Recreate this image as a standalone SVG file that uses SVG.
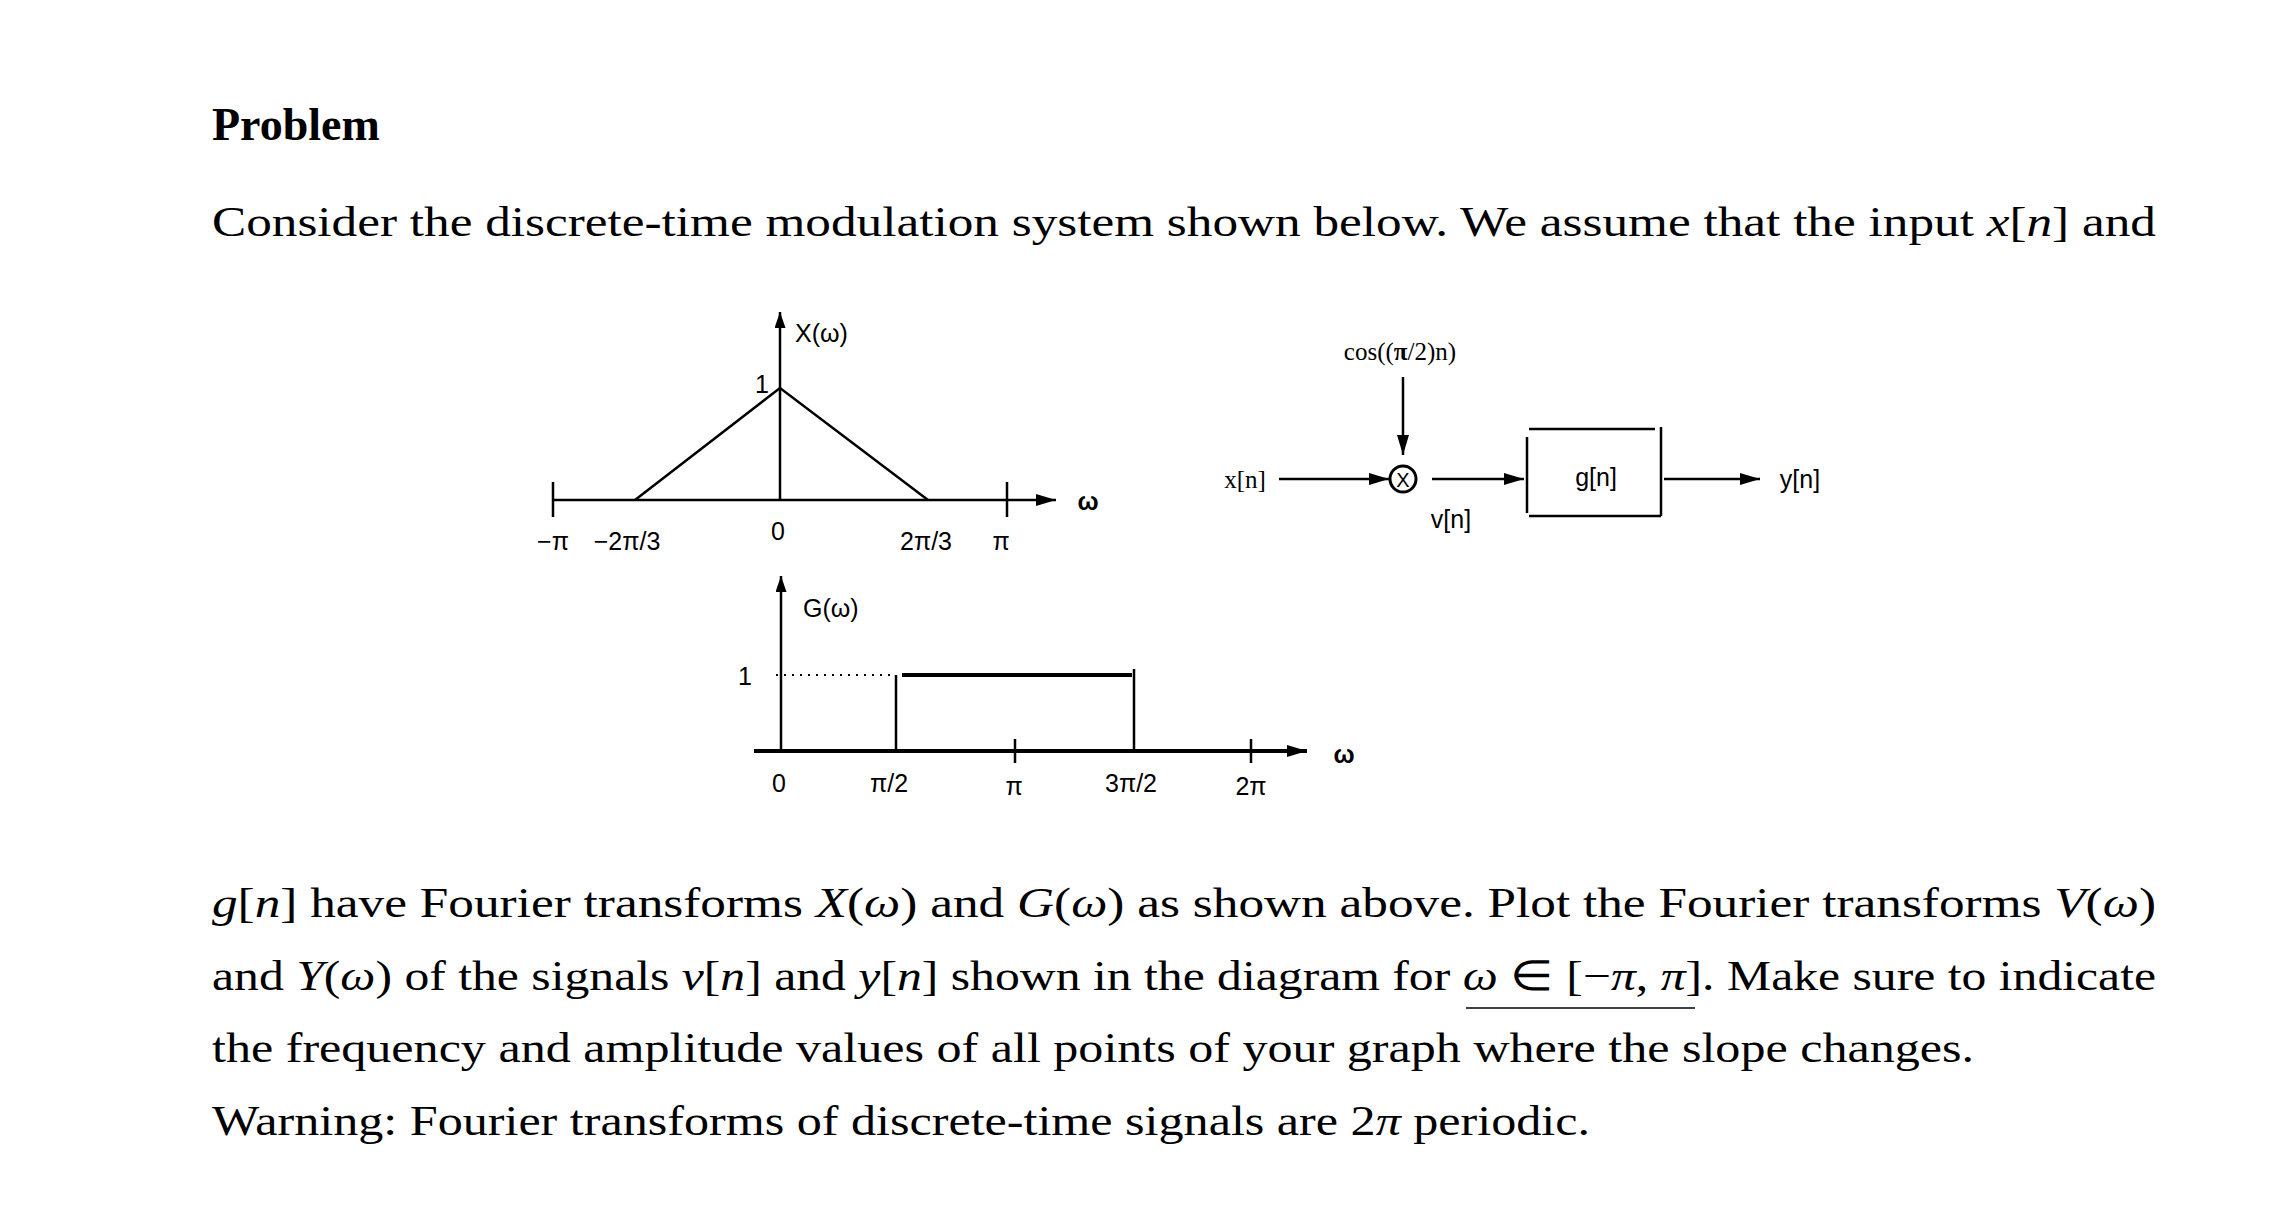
<svg xmlns="http://www.w3.org/2000/svg" width="2272" height="1216" viewBox="0 0 2272 1216">
<style>
.b{font-family:"Liberation Serif",serif;font-size:42px;fill:#000}
.i{font-style:italic}
.s{font-family:"Liberation Sans",Arial,sans-serif;font-size:25px;fill:#000}
.t{font-family:"Liberation Serif",serif;font-size:25px;fill:#000}
.l{stroke:#000;stroke-width:2.5;fill:none}
.k{stroke:#000;stroke-width:4;fill:none}
</style>
<defs>
<marker id="a" viewBox="0 0 10 10" refX="10" refY="5" markerWidth="16" markerHeight="11" markerUnits="userSpaceOnUse" orient="auto" preserveAspectRatio="none"><path d="M0,0L10,5L0,10z"/></marker>
<marker id="A" viewBox="0 0 10 10" refX="10" refY="5" markerWidth="20" markerHeight="12" markerUnits="userSpaceOnUse" orient="auto" preserveAspectRatio="none"><path d="M0,0L10,5L0,10z"/></marker>
</defs>
<rect width="2272" height="1216" fill="#fff"/>
<text x="212" y="140" class="b" style="font-weight:bold;font-size:46px">Problem</text>
<text x="212" y="236" class="b" textLength="1944" lengthAdjust="spacingAndGlyphs">Consider the discrete-time modulation system shown below. We assume that the input <tspan class="i">x</tspan>[<tspan class="i">n</tspan>] and</text>
<text x="212" y="917" class="b" textLength="1944" lengthAdjust="spacingAndGlyphs"><tspan class="i">g</tspan>[<tspan class="i">n</tspan>] have Fourier transforms <tspan class="i">X</tspan>(<tspan class="i">ω</tspan>) and <tspan class="i">G</tspan>(<tspan class="i">ω</tspan>) as shown above. Plot the Fourier transforms <tspan class="i">V</tspan>(<tspan class="i">ω</tspan>)</text>
<text x="212" y="990" class="b" textLength="1944" lengthAdjust="spacingAndGlyphs">and <tspan class="i">Y</tspan>(<tspan class="i">ω</tspan>) of the signals <tspan class="i">v</tspan>[<tspan class="i">n</tspan>] and <tspan class="i">y</tspan>[<tspan class="i">n</tspan>] shown in the diagram for <tspan class="i">ω</tspan> ∈ [−<tspan class="i">π</tspan>, <tspan class="i">π</tspan>]. Make sure to indicate</text>
<line x1="1466" y1="1008" x2="1695" y2="1008" stroke="#000" stroke-width="1.5"/>
<text x="212" y="1062" class="b" textLength="1762" lengthAdjust="spacingAndGlyphs">the frequency and amplitude values of all points of your graph where the slope changes.</text>
<text x="212" y="1135" class="b" textLength="1378" lengthAdjust="spacingAndGlyphs">Warning: Fourier transforms of discrete-time signals are 2<tspan class="i">π</tspan> periodic.</text>

<g id="plotX">
<line class="l" x1="553" y1="500" x2="1056" y2="500" marker-end="url(#A)"/>
<line class="l" x1="780" y1="500" x2="780" y2="312" marker-end="url(#a)"/>
<line class="l" x1="553" y1="482" x2="553" y2="517"/>
<line class="l" x1="1007" y1="482" x2="1007" y2="517"/>
<polyline class="l" points="635,500 780,388 928,500"/>
<text class="s" x="795" y="342">X(ω)</text>
<text class="s" x="762" y="393" text-anchor="middle">1</text>
<text class="s" x="553" y="550" text-anchor="middle">−π</text>
<text class="s" x="627" y="550" text-anchor="middle">−2π/3</text>
<text class="s" x="778" y="540" text-anchor="middle">0</text>
<text class="s" x="926" y="550" text-anchor="middle">2π/3</text>
<text class="s" x="1001" y="550" text-anchor="middle">π</text>
<text class="s" x="1088" y="510" text-anchor="middle" style="font-weight:bold">ω</text>
</g>

<g id="plotG">
<line class="k" x1="754" y1="751" x2="1307" y2="751" marker-end="url(#A)"/>
<line class="l" x1="781" y1="751" x2="781" y2="576" marker-end="url(#a)"/>
<line class="l" x1="1015" y1="739" x2="1015" y2="763"/>
<line class="l" x1="1251" y1="739" x2="1251" y2="763"/>
<line class="l" x1="896" y1="675" x2="896" y2="751"/>
<line class="l" x1="1134" y1="669" x2="1134" y2="751"/>
<line class="k" x1="902" y1="675" x2="1132" y2="675"/>
<line x1="776" y1="675" x2="896" y2="675" stroke="#000" stroke-width="2" stroke-dasharray="2,6"/>
<text class="s" x="803" y="617">G(ω)</text>
<text class="s" x="745" y="685" text-anchor="middle">1</text>
<text class="s" x="779" y="792" text-anchor="middle">0</text>
<text class="s" x="889" y="792" text-anchor="middle">π/2</text>
<text class="s" x="1014" y="795" text-anchor="middle">π</text>
<text class="s" x="1131" y="792" text-anchor="middle">3π/2</text>
<text class="s" x="1251" y="795" text-anchor="middle">2π</text>
<text class="s" x="1344" y="763" text-anchor="middle" style="font-weight:bold">ω</text>
</g>

<g id="mult">
<circle cx="1403" cy="479" r="13" fill="none" stroke="#000" stroke-width="3"/>
<text class="s" x="1403" y="487" text-anchor="middle" style="font-size:20px">X</text>
</g>
<g id="filter">
<line class="l" x1="1529" y1="429" x2="1655" y2="429"/>
<line class="l" x1="1529" y1="516" x2="1661" y2="516"/>
<line class="l" x1="1527" y1="437" x2="1527" y2="513"/>
<line class="l" x1="1661" y1="427" x2="1661" y2="516"/>
<text class="s" x="1596" y="486" text-anchor="middle">g[n]</text>
</g>
<g id="labels">
<text class="t" x="1400" y="360" text-anchor="middle">cos((<tspan style="font-weight:bold">π</tspan>/2)n)</text>
<text class="t" x="1245" y="488" text-anchor="middle">x[n]</text>
<text class="s" x="1451" y="528" text-anchor="middle">v[n]</text>
<text class="s" x="1800" y="488" text-anchor="middle">y[n]</text>
</g>
<g id="connectors">
<line class="l" x1="1403" y1="377" x2="1403" y2="455" marker-end="url(#A)"/>
<line class="l" x1="1279" y1="479" x2="1389" y2="479" marker-end="url(#A)"/>
<line class="l" x1="1432" y1="479" x2="1524" y2="479" marker-end="url(#A)"/>
<line class="l" x1="1664" y1="479" x2="1760" y2="479" marker-end="url(#A)"/>
</g>
</svg>
